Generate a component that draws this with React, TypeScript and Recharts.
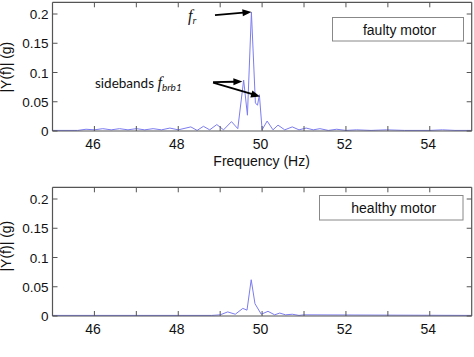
import React from 'react';
import { LineChart, Line, XAxis, YAxis, ReferenceLine } from 'recharts';

// ---------- data ----------
const faultyFreq = [
  45.0, 45.6, 45.8, 46.0, 46.2, 46.4, 46.6, 46.8, 47.0, 47.2, 47.4, 47.6, 47.8, 48.0,
  48.3, 48.45, 48.6, 48.75, 48.92, 49.08, 49.27, 49.42, 49.56, 49.65, 49.745, 49.84,
  49.89, 49.935, 50.0, 50.12, 50.26, 50.38, 50.54, 50.72, 50.88, 51.05, 51.22, 51.38,
  51.58, 51.78, 52.0, 52.25, 52.6, 52.97, 53.4, 54.0, 54.3, 54.6, 55.0,
];
const faultyAmp = [
  0.001, 0.001, 0.003, 0.002, 0.004, 0.002, 0.004, 0.002, 0.004, 0.002, 0.004, 0.002, 0.005, 0.002,
  0.007, 0.001, 0.008, 0.002, 0.011, 0.002, 0.016, 0.004, 0.087, 0.027, 0.203, 0.048,
  0.044, 0.062, 0.002, 0.017, 0.002, 0.010, 0.002, 0.007, 0.002, 0.005, 0.002, 0.004,
  0.001, 0.003, 0.001, 0.002, 0.001, 0.002, 0.001, 0.001, 0.002, 0.001, 0.001,
];
const healthyFreq = [
  45.0, 48.8, 49.0, 49.18, 49.36, 49.54, 49.64, 49.74, 49.83, 49.98, 50.14, 50.3,
  50.42, 50.56, 50.72, 50.88, 51.0, 55.0,
];
const healthyAmp = [
  0.001, 0.001, 0.002, 0.007, 0.003, 0.013, 0.010, 0.062, 0.021, 0.003, 0.008, 0.002,
  0.005, 0.002, 0.003, 0.001, 0.002, 0.001,
];

const xTicks = [46, 47, 48, 49, 50, 51, 52, 53, 54];
const xTickLabels = ['46', '', '48', '', '50', '', '52', '', '54'];
const yTicks = [0, 0.05, 0.1, 0.15, 0.2];
const yTickLabels = ['0', '0.05', '0.1', '0.15', '0.2'];
const xDomain = [45, 55];
const yDomain = [0, 0.22];

const legendFaulty = 'faulty motor';
const legendHealthy = 'healthy motor';
const xLabel = 'Frequency (Hz)';
const yLabel = '|Y(f)| (g)';

// annotation arrows in data coordinates: [from, to]
const arrowSegments = [
  [{ x: 48.876, y: 0.198 }, { x: 49.747, y: 0.2035 }],
  [{ x: 48.83, y: 0.0835 }, { x: 49.53, y: 0.0845 }],
  [{ x: 48.83, y: 0.0825 }, { x: 49.95, y: 0.059 }],
];

const faultyData = faultyFreq.map((f, i) => ({ freq: f, amp: faultyAmp[i] }));
const healthyData = healthyFreq.map((f, i) => ({ freq: f, amp: healthyAmp[i] }));

// ---------- styles ----------
const AXIS = '#555';
const LINE = '#7c7cf0';
const FONT = '"Liberation Sans", Arial, Helvetica, sans-serif';
const TXT = '#111';

function BottomTick(props: any) {
  const { x, y, payload } = props;
  const idx = xTicks.indexOf(payload.value);
  const label = idx >= 0 ? xTickLabels[idx] : '';
  return (
    <g>
      <line x1={x} y1={y} x2={x} y2={y - 5} stroke={AXIS} strokeWidth={1} />
      {label ? (
        <text x={x - 1.5} y={y + 17.5} textAnchor="middle" fontSize={14} fill={TXT} fontFamily={FONT}>
          {label}
        </text>
      ) : null}
    </g>
  );
}
function TopTick(props: any) {
  const { x, y } = props;
  return <line x1={x} y1={y} x2={x} y2={y + 5} stroke={AXIS} strokeWidth={1} />;
}
function LeftTick(props: any) {
  const { x, y, payload } = props;
  const idx = yTicks.indexOf(payload.value);
  const label = idx >= 0 ? yTickLabels[idx] : '';
  return (
    <g>
      <line x1={x} y1={y} x2={x + 5} y2={y} stroke={AXIS} strokeWidth={1} />
      <text x={x - 4} y={y + 5} textAnchor="end" fontSize={13.5} fill={TXT} fontFamily={FONT}>
        {label}
      </text>
    </g>
  );
}
function RightTick(props: any) {
  const { x, y } = props;
  return <line x1={x} y1={y} x2={x - 5} y2={y} stroke={AXIS} strokeWidth={1} />;
}

function Arrow(props: any) {
  const { x1, y1, x2, y2 } = props;
  if (![x1, y1, x2, y2].every((v) => typeof v === 'number' && isFinite(v))) return null;
  const dx = x2 - x1;
  const dy = y2 - y1;
  const len = Math.hypot(dx, dy) || 1;
  const ux = dx / len;
  const uy = dy / len;
  const hl = 9;
  const hw = 3.6;
  const bx = x2 - ux * hl;
  const by = y2 - uy * hl;
  const pts = `${x2},${y2} ${bx - uy * hw},${by + ux * hw} ${bx + uy * hw},${by - ux * hw}`;
  return (
    <g>
      <line x1={x1} y1={y1} x2={bx + ux} y2={by + uy} stroke="#000" strokeWidth={1.8} />
      <polygon points={pts} fill="#000" />
    </g>
  );
}

function YLabel(offsetY: number) {
  return (p: any) => {
    const vb = p.viewBox || {};
    const cy = (vb.y ?? 0) + (vb.height ?? 0) / 2 + offsetY;
    const cx = 11.5;
    return (
      <text
        x={cx}
        y={cy}
        transform={`rotate(-90 ${cx} ${cy})`}
        textAnchor="middle"
        fontSize={14}
        fill={TXT}
        fontFamily={FONT}
      >
        {yLabel}
      </text>
    );
  };
}

function XLabel(p: any) {
  const vb = p.viewBox || {};
  const cx = (vb.x ?? 0) + (vb.width ?? 0) / 2 - 0.5;
  const cy = (vb.y ?? 0) + 35;
  return (
    <text x={cx} y={cy} textAnchor="middle" fontSize={14} fill={TXT} fontFamily={FONT}>
      {xLabel}
    </text>
  );
}

function Axes(props: { xLab: boolean; yOff: number; bottomHeight: number }) {
  return null;
}

export default function App() {
  const commonAxes = (bottomHeight: number, withXLabel: boolean, yOff: number) => [
    <XAxis
      key="xb"
      xAxisId="b"
      dataKey="freq"
      type="number"
      domain={xDomain}
      ticks={xTicks}
      interval={0}
      allowDataOverflow
      height={bottomHeight}
      tickSize={0}
      tickMargin={0}
      tickLine={false}
      axisLine={{ stroke: AXIS, strokeWidth: 1.2 }}
      tick={(p: any) => <BottomTick {...p} />}
      label={withXLabel ? { content: XLabel } : undefined}
    />,
    <XAxis
      key="xt"
      xAxisId="t"
      orientation="top"
      dataKey="freq"
      type="number"
      domain={xDomain}
      ticks={xTicks}
      interval={0}
      allowDataOverflow
      height={1}
      tickSize={0}
      tickMargin={0}
      tickLine={false}
      axisLine={{ stroke: AXIS, strokeWidth: 1.2 }}
      tick={(p: any) => <TopTick {...p} />}
    />,
    <YAxis
      key="yl"
      yAxisId="l"
      type="number"
      domain={yDomain}
      ticks={yTicks}
      interval={0}
      allowDataOverflow
      width={52.5}
      tickSize={0}
      tickMargin={0}
      tickLine={false}
      axisLine={{ stroke: AXIS, strokeWidth: 1.2 }}
      tick={(p: any) => <LeftTick {...p} />}
      label={{ content: YLabel(yOff) }}
    />,
    <YAxis
      key="yr"
      yAxisId="r"
      orientation="right"
      type="number"
      domain={yDomain}
      ticks={yTicks}
      interval={0}
      allowDataOverflow
      width={2.3}
      tickSize={0}
      tickMargin={0}
      tickLine={false}
      axisLine={{ stroke: AXIS, strokeWidth: 1.2 }}
      tick={(p: any) => <RightTick {...p} />}
    />,
  ];

  return (
    <div
      style={{
        position: 'absolute',
        left: 0,
        top: 0,
        width: 474,
        height: 357,
        background: '#fff',
        overflow: 'hidden',
      }}
    >
      <div style={{ position: 'absolute', left: 0, top: 0 }}>
        <LineChart
          width={474}
          height={175}
          data={faultyData}
          margin={{ top: 1.3, right: 0, bottom: 0, left: 0 }}
        >
          {commonAxes(44, true, 0.5)}
          <Line
            xAxisId="b"
            yAxisId="l"
            type="linear"
            dataKey="amp"
            stroke={LINE}
            strokeWidth={1}
            dot={false}
            isAnimationActive={false}
          />
          {arrowSegments.map((seg, i) => (
            <ReferenceLine
              key={i}
              xAxisId="b"
              yAxisId="l"
              segment={seg}
              ifOverflow="visible"
              shape={(p: any) => <Arrow {...p} />}
            />
          ))}
        </LineChart>
      </div>
      <div style={{ position: 'absolute', left: 0, top: 175 }}>
        <LineChart
          width={474}
          height={182}
          data={healthyData}
          margin={{ top: 11.3, right: 0, bottom: 0, left: 0 }}
        >
          {commonAxes(41, false, -5.5)}
          <Line
            xAxisId="b"
            yAxisId="l"
            type="linear"
            dataKey="amp"
            stroke={LINE}
            strokeWidth={1}
            dot={false}
            isAnimationActive={false}
          />
        </LineChart>
      </div>
      <svg
        width={474}
        height={357}
        style={{ position: 'absolute', left: 0, top: 0, pointerEvents: 'none' }}
      >
        <rect x={332.5} y={17.5} width={131} height={23.5} fill="#fff" stroke="#888" strokeWidth={1} />
        <text x={399.5} y={34.5} textAnchor="middle" fontSize={14} fill={TXT} fontFamily={FONT}>
          {legendFaulty}
        </text>
        <rect x={319.5} y={195.5} width={143.5} height={24.5} fill="#fff" stroke="#888" strokeWidth={1} />
        <text x={393.7} y={213.3} textAnchor="middle" fontSize={14} fill={TXT} fontFamily={FONT}>
          {legendHealthy}
        </text>
        <text x={188} y={21} fill="#111">
          <tspan fontFamily='"Liberation Serif", serif' fontStyle="italic" fontSize={16}>
            f
          </tspan>
          <tspan fontFamily='"Liberation Serif", serif' fontStyle="italic" fontSize={10} dy={3}>
            r
          </tspan>
        </text>
        <text x={95} y={88.3} fill="#111" fontFamily="Lato, sans-serif" fontSize={13.5}>
          sidebands{' '}
          <tspan fontFamily='"Liberation Serif", serif' fontStyle="italic" fontSize={16}>
            f
          </tspan>
          <tspan fontFamily="Lato, sans-serif" fontStyle="italic" fontSize={10} dy={3}>
            brb1
          </tspan>
        </text>
      </svg>
    </div>
  );
}
